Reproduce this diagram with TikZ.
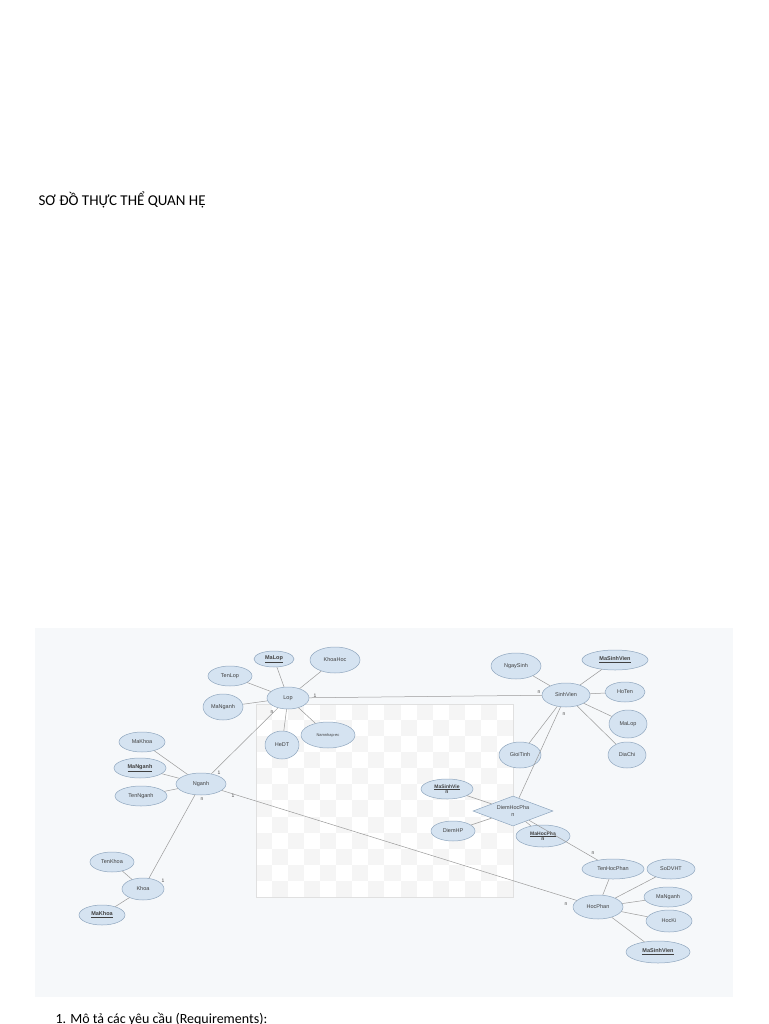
\documentclass[tikz,border=0pt]{standalone}
\usepackage{fontspec}
\setmainfont{Carlito}
\newfontfamily\dia{Liberation Sans}
\usetikzlibrary{shapes.geometric}
\definecolor{efill}{HTML}{D5E3F1}
\definecolor{edraw}{HTML}{8FA6BE}
\definecolor{panel}{HTML}{F6F8FA}
\definecolor{lin}{HTML}{9A9A9A}
\begin{document}
\begin{tikzpicture}[x=1pt,y=-1pt,
 attr/.style={ellipse,fill=efill,draw=edraw,line width=0.5pt,inner sep=0pt,font=\dia\fontsize{5.5}{6}\selectfont,text=black!75},
 rel/.style={diamond,aspect=2.7,fill=efill,draw=edraw,line width=0.5pt,inner sep=0pt,minimum width=80pt,minimum height=30pt,font=\dia\fontsize{5.5}{6.5}\selectfont,align=center,text=black!75},
 conn/.style={lin,line width=0.5pt},
 card/.style={font=\dia\fontsize{5}{5}\selectfont,text=black!70,inner sep=0pt}]
\useasboundingbox (0,0) rectangle (768,1024);
\fill[white] (0,0) rectangle (768,1024);
\node[anchor=west,font=\fontsize{15}{18}\selectfont] (title) at (35,200) {SƠ ĐỒ THỰC THỂ QUAN HỆ};
\fill[panel] (35,628) rectangle (733,997);
\fill[white] (256,704) rectangle (513,897);
\foreach \i in {0,...,15}{\foreach \j in {0,...,11}{
 \pgfmathtruncatemacro\myparity{mod(\i+\j,2)}
 \ifnum\myparity=0 \fill[black!4] ({256+\i*16.06},{704+\j*16.08}) rectangle ++(16.06,16.08);\fi}}
\draw[black!12] (256,704) rectangle (513,897);
% nodes
\node[attr,minimum width=40pt,minimum height=16pt] (malop) at (274,659) {\textbf{\underline{MaLop}}};
\node[attr,minimum width=50pt,minimum height=26pt] (khoahoc) at (335,660) {KhoaHoc};
\node[attr,minimum width=44pt,minimum height=20pt] (tenlop) at (230,676) {TenLop};
\node[attr,minimum width=42pt,minimum height=22pt] (lop) at (288,698) {Lop};
\node[attr,minimum width=40pt,minimum height=26pt] (manganh1) at (223,707) {MaNganh};
\node[attr,minimum width=34pt,minimum height=28pt] (hedt) at (282,745) {HeDT};
\node[attr,minimum width=54pt,minimum height=26pt,font=\dia\fontsize{4}{5}\selectfont] (namnh) at (328,735) {Namnhap-ec};
\node[attr,minimum width=46pt,minimum height=20pt] (makhoa1) at (142,742) {MaKhoa};
\node[attr,minimum width=52pt,minimum height=20pt] (manganhk) at (140,768) {\textbf{\underline{MaNganh}}};
\node[attr,minimum width=52pt,minimum height=20pt] (tennganh) at (141,796) {TenNganh};
\node[attr,minimum width=50pt,minimum height=22pt] (nganh) at (201,784) {Nganh};
\node[attr,minimum width=44pt,minimum height=20pt] (tenkhoa) at (112,862) {TenKhoa};
\node[attr,minimum width=42pt,minimum height=22pt] (khoa) at (143,889) {Khoa};
\node[attr,minimum width=46pt,minimum height=20pt] (makhoak) at (102,915) {\textbf{\underline{MaKhoa}}};
\node[attr,minimum width=50pt,minimum height=26pt] (ngaysinh) at (516,666) {NgaySinh};
\node[attr,minimum width=66pt,minimum height=20pt] (masvk) at (615,660) {\textbf{\underline{MaSinhVien}}};
\node[attr,minimum width=48pt,minimum height=24pt] (sinhvien) at (566,695) {SinhVien};
\node[attr,minimum width=40pt,minimum height=20pt] (hoten) at (625,692) {HoTen};
\node[attr,minimum width=38pt,minimum height=28pt] (malop2) at (628,724) {MaLop};
\node[attr,minimum width=38pt,minimum height=26pt] (diachi) at (627,755) {DiaChi};
\node[attr,minimum width=42pt,minimum height=26pt] (gioitinh) at (520,755) {GioiTinh};
\node[attr,minimum width=52pt,minimum height=20pt,align=center,font=\dia\fontsize{5}{5.5}\selectfont] (masvb) at (447,789) {\textbf{\underline{MaSinhVie}}\\\textbf{n}};
\node[rel] (dhp) at (513,811) {DiemHocPha\\n};
\node[attr,minimum width=44pt,minimum height=20pt] (diemhp) at (453,831) {DiemHP};
\node[attr,minimum width=54pt,minimum height=22pt,align=center,font=\dia\fontsize{5}{5.5}\selectfont] (mahpb) at (543,836) {\textbf{\underline{MaHocPha}}\\\textbf{n}};
\node[attr,minimum width=62pt,minimum height=20pt] (tenhp) at (613,869) {TenHocPhan};
\node[attr,minimum width=48pt,minimum height=20pt] (sodvht) at (671,869) {SoDVHT};
\node[attr,minimum width=50pt,minimum height=24pt] (hocphan) at (598,907) {HocPhan};
\node[attr,minimum width=48pt,minimum height=20pt] (manganh2) at (668,897) {MaNganh};
\node[attr,minimum width=46pt,minimum height=22pt] (hocki) at (669,921) {HocKi};
\node[attr,minimum width=64pt,minimum height=22pt] (masv2) at (658,952) {\textbf{\underline{MaSinhVien}}};
% connectors
\foreach \a/\b in {malop/lop,khoahoc/lop,tenlop/lop,manganh1/lop,hedt/lop,namnh/lop,
 makhoa1/nganh,manganhk/nganh,tennganh/nganh,tenkhoa/khoa,makhoak/khoa,
 ngaysinh/sinhvien,masvk/sinhvien,hoten/sinhvien,malop2/sinhvien,diachi/sinhvien,gioitinh/sinhvien,
 masvb/dhp,diemhp/dhp,mahpb/dhp,tenhp/hocphan,sodvht/hocphan,manganh2/hocphan,hocki/hocphan,masv2/hocphan}
 \draw[conn] (\a) -- (\b);
\draw[conn] (lop) -- (sinhvien);
\draw[conn] (lop) -- (nganh);
\draw[conn] (nganh) -- (khoa);
\draw[conn] (nganh) -- (hocphan);
\draw[conn] (sinhvien) -- (dhp);
\draw[conn] (dhp) -- (tenhp);
\node[card] (c1) at (315,696) {1};
\node[card] (c2) at (539,692) {n};
\node[card] (c3) at (272,712) {n};
\node[card] (c4) at (219,773) {1};
\node[card] (c5) at (202,799) {n};
\node[card] (c6) at (163,881) {1};
\node[card] (c7) at (233,796) {1};
\node[card] (c8) at (566,904) {n};
\node[card] (c9) at (564,714) {n};
\node[card] (c10) at (593,853) {n};
\node[anchor=west,font=\fontsize{14}{16}\selectfont] (req) at (52,1019) {1. Mô tả các yêu cầu (Requirements):};
\end{tikzpicture}
\end{document}
